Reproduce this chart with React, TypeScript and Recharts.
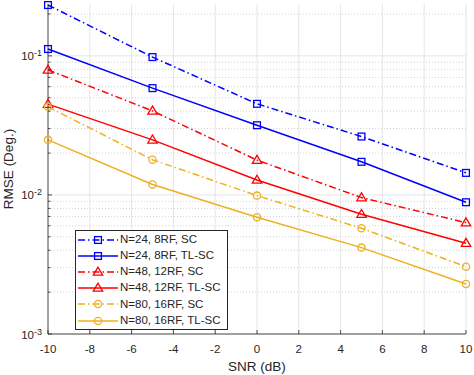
import React from 'react';
import { LineChart, Line, XAxis, YAxis, CartesianGrid, Legend } from 'recharts';

// ---------- data ----------
const snr = [-10, -5, 0, 5, 10];
const sc24 = [0.232, 0.098, 0.0452, 0.0263, 0.0144];
const tl24 = [0.112, 0.0586, 0.0317, 0.0173, 0.00886];
const sc48 = [0.0793, 0.0402, 0.0178, 0.00957, 0.00632];
const tl48 = [0.045, 0.0249, 0.0128, 0.00726, 0.0045];
const sc80 = [0.043, 0.0179, 0.00989, 0.00576, 0.00305];
const tl80 = [0.0249, 0.0119, 0.00692, 0.00418, 0.00229];

const xTicks = [-10, -8, -6, -4, -2, 0, 2, 4, 6, 8, 10];
const yMajor = [0.001, 0.01, 0.1];
const yMinor = [
  0.002, 0.003, 0.004, 0.005, 0.006, 0.007, 0.008, 0.009,
  0.02, 0.03, 0.04, 0.05, 0.06, 0.07, 0.08, 0.09,
  0.2,
];
const yAll = [...yMajor, ...yMinor].sort((a, b) => a - b);
const yDomain = [0.001, 0.236];

const labels = [
  'N=24, 8RF, SC',
  'N=24, 8RF, TL-SC',
  'N=48, 12RF, SC',
  'N=48, 12RF, TL-SC',
  'N=80, 16RF, SC',
  'N=80, 16RF, TL-SC',
];

const rows = snr.map((x, i) => ({
  x,
  sc24: sc24[i],
  tl24: tl24[i],
  sc48: sc48[i],
  tl48: tl48[i],
  sc80: sc80[i],
  tl80: tl80[i],
}));

// ---------- styles ----------
const BLUE = '#0000FF';
const RED = '#FF0000';
const YEL = '#EDB120';
const DASHDOT = '7 3 1.5 3';
const AX = '#262626';
const FONT = '"Liberation Sans", Arial, Helvetica, sans-serif';
const LW = 1.5;

type Kind = 'square' | 'triangle' | 'circle';
const styles: { key: string; color: string; dash?: string; marker: Kind }[] = [
  { key: 'sc24', color: BLUE, dash: DASHDOT, marker: 'square' },
  { key: 'tl24', color: BLUE, marker: 'square' },
  { key: 'sc48', color: RED, dash: DASHDOT, marker: 'triangle' },
  { key: 'tl48', color: RED, marker: 'triangle' },
  { key: 'sc80', color: YEL, dash: DASHDOT, marker: 'circle' },
  { key: 'tl80', color: YEL, marker: 'circle' },
];

function Marker({ kind, cx, cy, color }: { kind: Kind; cx: number; cy: number; color: string }) {
  if (cx == null || cy == null) return null;
  if (kind === 'square') {
    return <rect x={cx - 3.4} y={cy - 3.4} width={6.8} height={6.8} fill="none" stroke={color} strokeWidth={1.3} />;
  }
  if (kind === 'triangle') {
    return (
      <polygon
        points={`${cx},${cy - 4.8} ${cx - 4.7},${cy + 3.2} ${cx + 4.7},${cy + 3.2}`}
        fill="none"
        stroke={color}
        strokeWidth={1.3}
      />
    );
  }
  return <circle cx={cx} cy={cy} r={3.6} fill="none" stroke={color} strokeWidth={1.3} />;
}

function LeftTick(props: any) {
  const { x, y, payload } = props;
  const v = payload.value;
  const major = yMajor.includes(v);
  const exp = Math.round(Math.log10(v));
  return (
    <g>
      <line x1={x} x2={x + (major ? 4 : 2.5)} y1={y} y2={y} stroke={AX} strokeWidth={0.8} />
      {major && (
        <text x={x - 6} y={y + 4.5} textAnchor="end" fill={AX} fontSize={11.5} fontFamily={FONT}>
          10
          <tspan dy={-4} fontSize={9}>{String(exp)}</tspan>
        </text>
      )}
    </g>
  );
}

function RightTick(props: any) {
  const { x, y, payload } = props;
  const major = yMajor.includes(payload.value);
  return <line x1={x} x2={x - (major ? 4 : 2.5)} y1={y} y2={y} stroke={AX} strokeWidth={0.8} />;
}

function BottomTick(props: any) {
  const { x, y, payload } = props;
  return (
    <g>
      <line x1={x} x2={x} y1={y} y2={y - 4} stroke={AX} strokeWidth={0.8} />
      <text x={x} y={y + 19} textAnchor="middle" fill={AX} fontSize={11.5} fontFamily={FONT}>
        {String(payload.value)}
      </text>
    </g>
  );
}

function TopTick(props: any) {
  const { x, y } = props;
  return <line x1={x} x2={x} y1={y} y2={y + 4} stroke={AX} strokeWidth={0.8} />;
}

function LegendBox() {
  return (
    <div
      style={{
        width: 151,
        border: `1px solid ${AX}`,
        background: '#fff',
        padding: '0.5px 0',
        fontFamily: FONT,
        fontSize: 11.5,
        color: AX,
        lineHeight: 1,
      }}
    >
      {styles.map((s, i) => (
        <div key={s.key} style={{ display: 'flex', alignItems: 'center', height: 16.2 }}>
          <svg width={44} height={16} style={{ display: 'block', flex: 'none' }}>
            <line x1={2} x2={42} y1={8} y2={8} stroke={s.color} strokeWidth={LW} strokeDasharray={s.dash} />
            <Marker kind={s.marker} cx={22} cy={8} color={s.color} />
          </svg>
          <span style={{ whiteSpace: 'nowrap' }}>{labels[i]}</span>
        </div>
      ))}
    </div>
  );
}

export default function App() {
  return (
    <div style={{ position: 'absolute', left: 0, top: 0, background: '#fff' }}>
      <LineChart width={474} height={375} data={rows} margin={{ top: 4, right: 8, bottom: 0, left: 0 }}>
        <CartesianGrid
          vertical={false}
          horizontalValues={yMinor}
          stroke="#c8c8c8"
          strokeDasharray="1 2"
          strokeWidth={0.8}
        />
        <CartesianGrid
          horizontalValues={yMajor}
          verticalValues={xTicks}
          stroke="#dedede"
          strokeWidth={0.8}
        />
        <XAxis
          dataKey="x"
          type="number"
          domain={[-10, 10]}
          ticks={xTicks}
          interval={0}
          tickLine={false}
          tickSize={0}
          tickMargin={0}
          tick={<BottomTick />}
          axisLine={{ stroke: AX, strokeWidth: 0.8 }}
          height={41}
          label={{ value: 'SNR (dB)', position: 'insideBottom', offset: 4, fill: AX, fontSize: 13.5, fontFamily: FONT }}
        />
        <XAxis
          xAxisId="top"
          orientation="top"
          dataKey="x"
          type="number"
          domain={[-10, 10]}
          allowDataOverflow
          ticks={xTicks}
          interval={0}
          tickLine={false}
          tickSize={0}
          tickMargin={0}
          tick={<TopTick />}
          axisLine={{ stroke: AX, strokeWidth: 0.8 }}
          height={0}
        />
        <YAxis
          type="number"
          scale="log"
          domain={yDomain}
          ticks={yAll}
          interval={0}
          tickLine={false}
          tickSize={0}
          tickMargin={0}
          tick={<LeftTick />}
          axisLine={{ stroke: AX, strokeWidth: 0.8 }}
          width={48}
          label={{
            value: 'RMSE (Deg.)',
            angle: -90,
            position: 'insideLeft',
            offset: 8,
            fill: AX,
            fontSize: 13.5,
            fontFamily: FONT,
            style: { textAnchor: 'middle' },
          }}
        />
        <YAxis
          yAxisId="right"
          orientation="right"
          type="number"
          scale="log"
          domain={yDomain}
          allowDataOverflow
          ticks={yAll}
          interval={0}
          tickLine={false}
          tickSize={0}
          tickMargin={0}
          tick={<RightTick />}
          axisLine={{ stroke: AX, strokeWidth: 0.8 }}
          width={0}
        />
        {styles.map((s) => (
          <Line
            key={s.key}
            dataKey={s.key}
            type="linear"
            stroke={s.color}
            strokeWidth={LW}
            strokeDasharray={s.dash}
            isAnimationActive={false}
            activeDot={false}
            dot={(p: any) => <Marker key={`${s.key}-${p.index}`} kind={s.marker} cx={p.cx} cy={p.cy} color={s.color} />}
          />
        ))}
        <Legend
          layout="vertical"
          align="center"
          verticalAlign="middle"
          wrapperStyle={{ left: 75, top: 230, width: 'auto', height: 'auto' }}
          content={() => <LegendBox />}
        />
      </LineChart>
    </div>
  );
}
